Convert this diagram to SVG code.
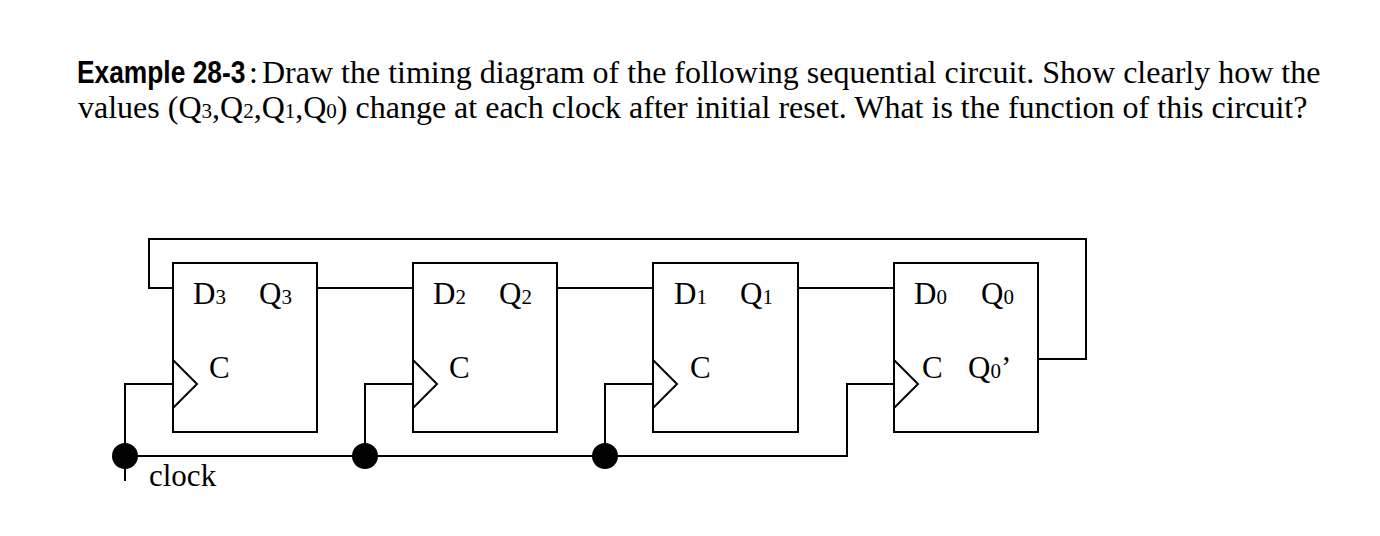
<svg xmlns="http://www.w3.org/2000/svg" width="1380" height="536" viewBox="0 0 1380 536">
<style>
text{font-family:"Liberation Serif","Times New Roman",serif;fill:#000}
.h{font-size:32px}
.b{font-family:"Liberation Sans",Arial,sans-serif;font-weight:700;font-size:31px}
.l{font-size:31px}
.s{font-size:21px}
.box{fill:#fff;stroke:#000;stroke-width:2}
.w{fill:none;stroke:#000;stroke-width:2}
.dot{fill:#000}
</style>
<rect width="1380" height="536" fill="#fff"/>
<g id="heading">
<text class="b" transform="translate(77 83) scale(.85 1)">Example 28-3</text>
<text class="h" x="249" y="83">:</text>
<text class="h" x="262" y="83">Draw the timing diagram of the following sequential circuit. Show clearly how the</text>
<text class="h" x="78" y="118">values (Q<tspan class="s">3</tspan>,Q<tspan class="s">2</tspan>,Q<tspan class="s">1</tspan>,Q<tspan class="s">0</tspan>) change at each clock after initial reset. What is the function of this circuit?</text>
</g>
<g id="connectors">
<path class="w" d="M173 288H149V239H1086V359H1038"/>
<path class="w" d="M317 288H413M557 288H653M798 288H894"/>
<path class="w" d="M125 481V384H173M365 456V384H413M605 456V384H653M125 456H847V384H894"/>
</g>
<g id="ff3">
<rect class="box" x="173" y="263" width="144" height="169"/>
<path class="w" d="M173 360L197 384L173 408"/>
<text class="l" x="193" y="304">D<tspan class="s">3</tspan></text>
<text class="l" x="259" y="304">Q<tspan class="s">3</tspan></text>
<text class="l" x="209" y="378">C</text>
</g>
<g id="ff2">
<rect class="box" x="413" y="263" width="144" height="169"/>
<path class="w" d="M413 360L437 384L413 408"/>
<text class="l" x="433" y="304">D<tspan class="s">2</tspan></text>
<text class="l" x="499" y="304">Q<tspan class="s">2</tspan></text>
<text class="l" x="449" y="378">C</text>
</g>
<g id="ff1">
<rect class="box" x="653" y="263" width="145" height="169"/>
<path class="w" d="M653 360L677 384L653 408"/>
<text class="l" x="674" y="304">D<tspan class="s">1</tspan></text>
<text class="l" x="740" y="304">Q<tspan class="s">1</tspan></text>
<text class="l" x="690" y="378">C</text>
</g>
<g id="ff0">
<rect class="box" x="894" y="263" width="144" height="169"/>
<path class="w" d="M894 360L918 384L894 408"/>
<text class="l" x="914" y="304">D<tspan class="s">0</tspan></text>
<text class="l" x="981" y="304">Q<tspan class="s">0</tspan></text>
<text class="l" x="922" y="378">C</text>
<text class="l" x="968" y="378">Q<tspan class="s">0</tspan>’</text>
</g>
<g id="clock">
<circle class="dot" cx="125" cy="456" r="13"/>
<circle class="dot" cx="365" cy="456" r="13"/>
<circle class="dot" cx="605" cy="456" r="13"/>
<text class="l" x="149" y="486">clock</text>
</g>
</svg>
